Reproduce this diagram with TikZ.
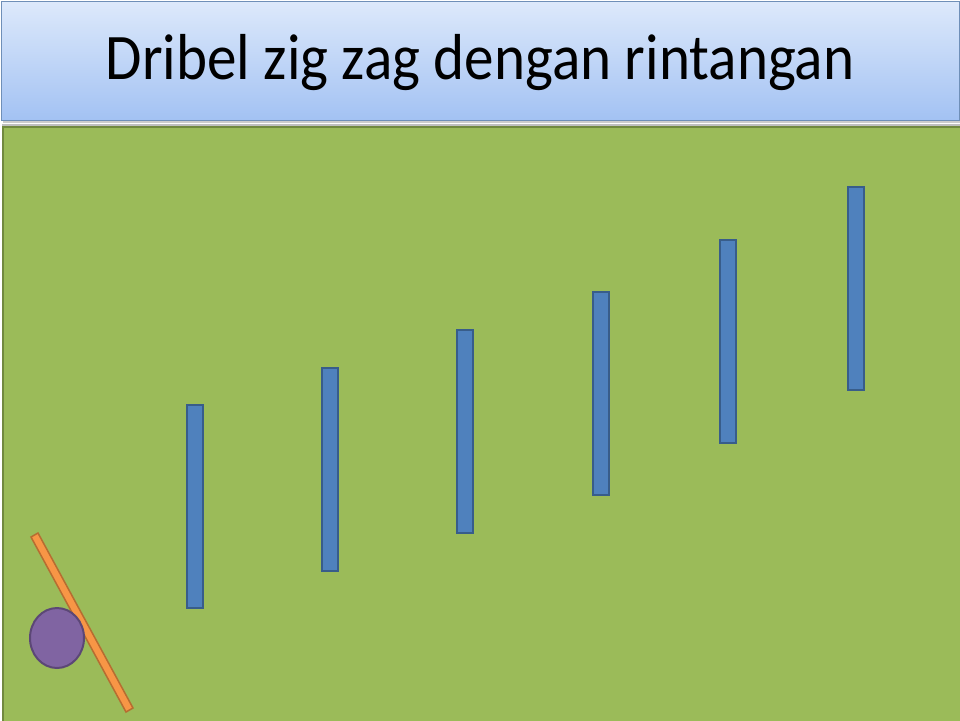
\documentclass[tikz,border=0pt]{standalone}
\usepackage{fontspec}
\setmainfont{Carlito}
\definecolor{titletop}{HTML}{DDE9FB}
\definecolor{titlebot}{HTML}{A3C2F3}
\definecolor{titleedge}{HTML}{6F8FB8}
\definecolor{field}{HTML}{9BBB59}
\definecolor{fieldedge}{HTML}{71893F}
\definecolor{barfill}{HTML}{4F81BD}
\definecolor{baredge}{HTML}{385D8A}
\definecolor{stickfill}{HTML}{F79646}
\definecolor{stickedge}{HTML}{B66D31}
\definecolor{ballfill}{HTML}{8064A2}
\definecolor{balledge}{HTML}{5C4776}
\begin{document}
\begin{tikzpicture}[x=1pt,y=-1pt,
  pole/.style={draw=baredge,fill=barfill,line width=2pt},
]
\useasboundingbox (0,0) rectangle (960,720);
\fill[white] (0,0) rectangle (960,720);
% title banner
\fill[gray!40] (3,4) rectangle (960,123);
\shade[top color=titletop,bottom color=titlebot,draw=titleedge,line width=1pt] (1,1) rectangle (959,120);
\node (title) at (480,63) {\scalebox{0.91}[1]{\fontsize{65}{70}\selectfont Dribel zig zag dengan rintangan}};
% field
\fill[gray!50] (2,124) rectangle (960,720);
\draw[fill=field,draw=fieldedge,line width=1.5pt] (3,127) rectangle (962,722);
% poles
\draw[pole] (187,405) rectangle (203,608);
\draw[pole] (322,368) rectangle (338,571);
\draw[pole] (457,330) rectangle (473,533);
\draw[pole] (593,292) rectangle (609,495);
\draw[pole] (720,240) rectangle (736,443);
\draw[pole] (848,187) rectangle (864,390);
% stick
\draw[fill=stickfill,draw=stickedge,line width=1.5pt] (31,537) -- (38,533) -- (133,708) -- (126,712) -- cycle;
% ball
\draw[fill=ballfill,draw=balledge,line width=2pt] (57,638) ellipse (27 and 30);
\end{tikzpicture}
\end{document}
